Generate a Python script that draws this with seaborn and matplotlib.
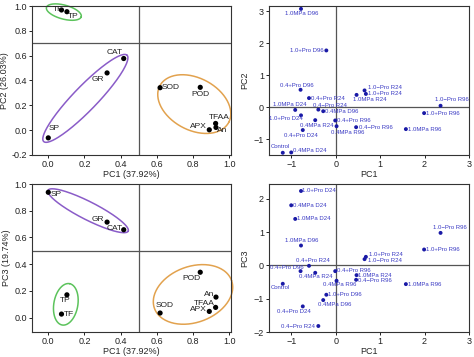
import numpy as np
import pandas as pd
import matplotlib
matplotlib.use("Agg")
import matplotlib.pyplot as plt
import seaborn as sns

# ---------------- data ----------------
variables = ['SP', 'GR', 'CAT', 'TF', 'TP', 'SOD', 'POD', 'TFAA', 'An', 'APX']
load_pc1 = [0.0, 0.325, 0.417, 0.073, 0.103, 0.618, 0.84, 0.925, 0.927, 0.89]
load_pc2 = [-0.062, 0.461, 0.577, 0.968, 0.954, 0.342, 0.345, 0.054, 0.022, 0.003]
load_pc3 = [0.938, 0.715, 0.658, 0.027, 0.171, 0.035, 0.34, 0.077, 0.154, 0.047]

samples = ['Control', '0.4MPa D24', '0.4MPa D96', '0.4MPa R24', '0.4MPa R96',
           '1.0MPa D24', '1.0MPa D96', '1.0MPa R24', '1.0MPa R96',
           '0.4+Pro D24', '0.4+Pro D96', '0.4+Pro R24', '0.4+Pro R96',
           '0.4\u2212Pro R24', '0.4\u2212Pro R96',
           '1.0+Pro D24', '1.0+Pro D96', '1.0+Pro R24', '1.0+Pro R96',
           '1.0\u2212Pro R24', '1.0\u2212Pro R96']
score_pc1 = [-1.19, -1.0, -0.28, -0.46, 0.02, -0.91, -0.78, 0.47, 1.58,
             -0.74, -0.79, -0.60, -0.01, -0.39, 0.46,
             -0.78, -0.21, 0.68, 1.99, 0.65, 2.36]
score_pc2 = [-1.43, -1.42, -0.13, -0.41, -0.60, -0.09, 3.07, 0.38, -0.69,
             -0.72, 0.54, 0.28, -0.42, -0.08, -0.63,
             -0.26, 1.77, 0.41, -0.19, 0.52, 0.04]
score_pc3 = [-0.55, 1.81, -1.04, -0.22, -0.46, 1.40, 0.60, -0.29, -0.56,
             -1.23, -0.17, -0.01, -0.17, -1.82, -0.43,
             2.24, -0.88, 0.26, 0.48, 0.19, 0.98]

load_xlabel = 'PC1 (37.92%)'
load_ylabels = ['PC2 (26.03%)', 'PC3 (19.74%)']

# ---------------- styles ----------------
# label offsets in pixels (dx, dy, ha)
lab_tl = {'SP': (0, 9, 'left'), 'GR': (-3, -7, 'right'), 'CAT': (-1, 6, 'right'),
          'TF': (1, 0, 'right'), 'TP': (1, -5, 'left'), 'SOD': (2, 0, 'left'),
          'POD': (0, -7, 'center'), 'TFAA': (4, 6, 'center'), 'An': (1, -3, 'left'),
          'APX': (-2, 3, 'right')}
lab_bl = {'SP': (2, -2, 'left'), 'GR': (-3, 3, 'right'), 'CAT': (-1, 1, 'right'),
          'TF': (2, 0, 'left'), 'TP': (-2, -6, 'center'), 'SOD': (5, 8, 'center'),
          'POD': (0, -6, 'right'), 'TFAA': (-1, 4, 'right'), 'An': (-2, 3, 'right'),
          'APX': (-2, 2, 'right')}
lab_tr = {'Control': (-2, 6, 'center'), '0.4MPa D24': (2, 2, 'left'),
          '0.4MPa D96': (2, 0, 'left'), '0.4MPa R24': (2, -5, 'center'),
          '0.4MPa R96': (11, -6, 'center'), '1.0MPa D24': (-5, 5, 'center'),
          '1.0MPa D96': (1, -5, 'center'), '1.0MPa R24': (13, -5, 'center'),
          '1.0MPa R96': (2, 0, 'left'), '0.4+Pro D24': (-2, -5, 'center'),
          '0.4+Pro D96': (-4, 4, 'center'), '0.4+Pro R24': (2, 0, 'left'),
          '0.4+Pro R96': (2, 0, 'left'), '0.4\u2212Pro R24': (-5, 4, 'left'),
          '0.4\u2212Pro R96': (3, 0, 'left'), '1.0+Pro D24': (2, -3, 'right'),
          '1.0+Pro D96': (-3, 0, 'right'), '1.0+Pro R24': (2, 0, 'left'),
          '1.0+Pro R96': (2, 0, 'left'), '1.0\u2212Pro R24': (3, 3, 'left'),
          '1.0\u2212Pro R96': (11, 6, 'center')}
lab_br = {'Control': (-2, -4, 'center'), '0.4MPa D24': (2, 0, 'left'),
          '0.4MPa D96': (11, -4, 'center'), '0.4MPa R24': (1, -4, 'center'),
          '0.4MPa R96': (3, -4, 'center'), '1.0MPa D24': (2, 0, 'left'),
          '1.0MPa D96': (1, 5, 'center'), '1.0MPa R24': (1, 0, 'left'),
          '1.0MPa R96': (2, 0, 'left'), '0.4+Pro D24': (-9, -5, 'center'),
          '0.4+Pro D96': (3, 4, 'right'), '0.4+Pro R24': (4, 5, 'center'),
          '0.4+Pro R96': (2, 1, 'left'), '0.4\u2212Pro R24': (-3, 0, 'right'),
          '0.4\u2212Pro R96': (2, -1, 'left'), '1.0+Pro D24': (1, 0, 'left'),
          '1.0+Pro D96': (2, 0, 'left'), '1.0+Pro R24': (3, 2, 'left'),
          '1.0+Pro R96': (2, 0, 'left'), '1.0\u2212Pro R24': (3, -1, 'left'),
          '1.0\u2212Pro R96': (9, 5, 'center')}

PURPLE, GREEN, ORANGE = '#8a5cc8', '#5cc35c', '#e2a24e'
# ellipses: (cx, cy, semi-major px, semi-minor px, angle deg, color)
ell_tl = [(0.086, 0.951, 18, 7, -15, GREEN), (0.205, 0.256, 60, 12, 46, PURPLE),
          (0.807, 0.21, 39, 26, -28, ORANGE)]
ell_bl = [(0.22, 0.80, 45, 9, -27, PURPLE), (0.097, 0.10, 21, 12, 80, GREEN),
          (0.80, 0.174, 41, 28, 20, ORANGE)]

sns.set_style('ticks')
plt.rcParams['font.family'] = ['Liberation Sans', 'DejaVu Sans']
plt.rcParams['axes.linewidth'] = 0.8
plt.rcParams['axes.edgecolor'] = '#333333'

fig = plt.figure(figsize=(4.74, 3.57), dpi=100)
W, H = 474, 357


def add_ax(l, t, r, b):
    return fig.add_axes([l / W, 1 - b / H, (r - l) / W, (b - t) / H])


ax_tl = add_ax(32, 6, 231, 155)
ax_tr = add_ax(269, 6, 469, 155)
ax_bl = add_ax(32, 184, 231, 332)
ax_br = add_ax(269, 184, 469, 332)

df_load = pd.DataFrame({'var': variables, 'PC1': load_pc1, 'PC2': load_pc2, 'PC3': load_pc3})
df_score = pd.DataFrame({'sample': samples, 'PC1': score_pc1, 'PC2': score_pc2, 'PC3': score_pc3})


def style_ax(ax, fs=6.5):
    ax.tick_params(direction='out', length=2.5, width=0.7, labelsize=fs, pad=1.2,
                   colors='#222222')
    for s in ax.spines.values():
        s.set_visible(True)


def draw_ellipses(ax, ells):
    bb = ax.get_window_extent()
    x0, x1 = ax.get_xlim()
    y0, y1 = ax.get_ylim()
    sx = bb.width / (x1 - x0)
    sy = bb.height / (y1 - y0)
    t = np.linspace(0, 2 * np.pi, 200)
    for cx, cy, a, b, ang, col in ells:
        th = np.deg2rad(ang)
        dx = a * np.cos(t) * np.cos(th) - b * np.sin(t) * np.sin(th)
        dy = a * np.cos(t) * np.sin(th) + b * np.sin(t) * np.cos(th)
        ax.plot(cx + dx / sx, cy + dy / sy, color=col, lw=1.1, clip_on=False)


def loading_panel(ax, ycol, ylabel, ylim, yticks, hline, labs, ells):
    sns.scatterplot(data=df_load, x='PC1', y=ycol, ax=ax, color='black', s=14,
                    edgecolor='none', zorder=3)
    ax.set_xlim(-0.09, 1.01)
    ax.set_ylim(*ylim)
    ax.set_xticks([0.0, 0.2, 0.4, 0.6, 0.8, 1.0])
    ax.set_yticks(yticks)
    ax.xaxis.set_major_formatter(matplotlib.ticker.FormatStrFormatter('%.1f'))
    ax.yaxis.set_major_formatter(matplotlib.ticker.FormatStrFormatter('%.1f'))
    ax.axhline(hline, color='#555555', lw=0.9, zorder=1)
    ax.axvline(0.5, color='#555555', lw=0.9, zorder=1)
    ax.set_xlabel(load_xlabel, fontsize=6.5, labelpad=0.5)
    ax.set_ylabel(ylabel, fontsize=6.5, labelpad=2)
    style_ax(ax)
    for v, x, y in zip(df_load['var'], df_load['PC1'], df_load[ycol]):
        dx, dy, ha = labs[v]
        ax.annotate(v, (x, y), xytext=(dx, dy), textcoords='offset pixels',
                    ha=ha, va='center', fontsize=6, color='#222222', zorder=4)
    draw_ellipses(ax, ells)


def score_panel(ax, ycol, ylim, yticks, labs):
    sns.scatterplot(data=df_score, x='PC1', y=ycol, ax=ax, color='#1a1aa6', s=8,
                    edgecolor='none', zorder=3)
    ax.set_xlim(-1.5, 3.0)
    ax.set_ylim(*ylim)
    ax.set_xticks([-1, 0, 1, 2, 3])
    ax.set_yticks(yticks)
    ax.axhline(0, color='#555555', lw=0.9, zorder=1)
    ax.axvline(0, color='#555555', lw=0.9, zorder=1)
    ax.set_xlabel('PC1', fontsize=6.5, labelpad=0.5)
    ax.set_ylabel(ycol, fontsize=6.5, labelpad=3)
    style_ax(ax)
    for v, x, y in zip(df_score['sample'], df_score['PC1'], df_score[ycol]):
        dx, dy, ha = labs[v]
        ax.annotate(v, (x, y), xytext=(dx, dy), textcoords='offset pixels',
                    ha=ha, va='center', fontsize=4.3, color='#3b3bc4', zorder=4)


loading_panel(ax_tl, 'PC2', load_ylabels[0], (-0.2, 1.0),
              [-0.2, 0.0, 0.2, 0.4, 0.6, 0.8, 1.0], 0.7, lab_tl, ell_tl)
loading_panel(ax_bl, 'PC3', load_ylabels[1], (-0.107, 1.0),
              [0.0, 0.2, 0.4, 0.6, 0.8, 1.0], 0.5, lab_bl, ell_bl)
score_panel(ax_tr, 'PC2', (-1.5, 3.16), [-1, 0, 1, 2, 3], lab_tr)
score_panel(ax_br, 'PC3', (-2.0, 2.45), [-2, -1, 0, 1, 2], lab_br)

fig.savefig('out.png', dpi=100)
